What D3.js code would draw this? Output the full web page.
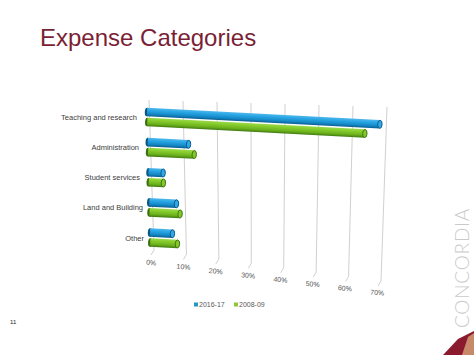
<html>
<head>
<title>Expense Categories</title>
<script type="text/javascript" src="https://d3js.org/d3.v7.min.js"></script>
<style>
  body { margin:0; background:#fff; }
  text { font-family: "Liberation Sans", Arial, sans-serif; }
</style>
</head>
<body>
<script type="text/javascript">
  var width = 474;
  var height = 355;

  var categories = ["Teaching and research", "Administration", "Student services", "Land and Building", "Other"];
  var series = ["2016-17", "2008-09"];
  var values2016 = [68.5, 12, 4.3, 8, 6.6];
  var values2008 = [64, 13.6, 4.3, 9, 8];
  var ticks = [0, 10, 20, 30, 40, 50, 60, 70];

  var svg = d3.select("body")
              .append("svg")
              .attr("width", width)
              .attr("height", height);

  var defs = svg.append("defs");
  function cylGrad(id, stops) {
    var g = defs.append("linearGradient").attr("id", id)
                .attr("x1", 0).attr("y1", 0).attr("x2", 0).attr("y2", 1);
    stops.forEach(function(s){
      g.append("stop").attr("offset", s[0]).attr("stop-color", s[1]);
    });
  }
  cylGrad("gBlue", [[0,"#4fb8ec"],[0.3,"#2aa6e4"],[0.7,"#1589c8"],[1,"#0a5c8e"]]);
  cylGrad("gGreen", [[0,"#9ad94a"],[0.3,"#86cc2c"],[0.7,"#6bb01c"],[1,"#3f7a10"]]);
  var fills = { "2016-17": "url(#gBlue)", "2008-09": "url(#gGreen)" };
  var caps = { "2016-17": "#2ea8e6", "2008-09": "#82c82a" };
  var edges = { "2016-17": "#0b5582", "2008-09": "#3c6e10" };
  var legendColors = { "2016-17": "#1e9cc0", "2008-09": "#8cc63e" };

  // title
  svg.append("text").attr("x", 40).attr("y", 46)
     .attr("font-size", 24).attr("fill", "#7a1f35")
     .text("Expense Categories");

  // perspective scales for the back wall gridlines
  var xTop = d3.scaleLinear().domain([0, 70]).range([149, 387]);
  var yTop = d3.scaleLinear().domain([0, 70]).range([100, 107]);
  var xBot = d3.scaleLinear().domain([0, 70]).range([154, 381]);
  var yBot = d3.scaleLinear().domain([0, 70]).range([250, 281]);
  var xLab = d3.scaleLinear().domain([0, 70]).range([151, 377]);
  var yLab = d3.scaleLinear().domain([0, 70]).range([265, 295]);

  var grid = svg.append("g");
  grid.selectAll("path").data(ticks).enter().append("path")
      .attr("d", function(d){
        return "M" + xTop(d) + "," + yTop(d) + "L" + xBot(d) + "," + yBot(d) +
               "L" + (xBot(d) - 3) + "," + (yBot(d) + 5);
      })
      .attr("fill", "none").attr("stroke", "#d0d0d0").attr("stroke-width", 1);

  grid.selectAll("text").data(ticks).enter().append("text")
      .attr("transform", function(d){ return "translate(" + xLab(d) + "," + yLab(d) + ") rotate(5)"; })
      .attr("text-anchor", "middle")
      .attr("font-size", 7).attr("fill", "#595959")
      .text(function(d){ return d + "%"; });

  // bars
  var yCat = d3.scalePoint().domain(categories).range([112, 232.5]);
  var seriesOffset = { "2016-17": 0, "2008-09": 10 };
  var barLen = d3.scaleLinear().domain([0, 70]).range([0, 238]);
  var tilt = 0.18; // px drop per percent
  var half = 4.3;

  var barData = [];
  categories.forEach(function(c, i){
    barData.push({cat: c, s: "2016-17", v: values2016[i]});
    barData.push({cat: c, s: "2008-09", v: values2008[i]});
  });

  var bars = svg.append("g").selectAll("g").data(barData).enter().append("g")
    .attr("transform", function(d){
      var y0 = yCat(d.cat) + seriesOffset[d.s];
      var x0 = 147 + (y0 - 112) * 0.025;
      var ang = Math.atan2(d.v * tilt, barLen(d.v)) * 180 / Math.PI;
      return "translate(" + x0 + "," + y0 + ") rotate(" + ang + ")";
    });

  bars.append("ellipse")
      .attr("cx", 0).attr("cy", 0).attr("rx", 2.2).attr("ry", half)
      .attr("fill", function(d){ return edges[d.s]; });
  bars.append("rect")
      .attr("x", 0).attr("y", -half)
      .attr("width", function(d){ return Math.hypot(barLen(d.v), d.v * tilt); })
      .attr("height", half * 2)
      .attr("fill", function(d){ return fills[d.s]; });
  bars.append("ellipse")
      .attr("cx", function(d){ return Math.hypot(barLen(d.v), d.v * tilt); })
      .attr("cy", 0).attr("rx", 2.2).attr("ry", half - 0.3)
      .attr("fill", function(d){ return caps[d.s]; })
      .attr("stroke", function(d){ return edges[d.s]; })
      .attr("stroke-width", 0.9);

  // category labels
  var labX = { "Teaching and research": 137, "Administration": 139, "Student services": 140,
               "Land and Building": 143, "Other": 144 };
  svg.append("g").selectAll("text").data(categories).enter().append("text")
     .attr("x", function(d){ return labX[d]; })
     .attr("y", function(d){ return yCat(d) + 8; })
     .attr("text-anchor", "end")
     .attr("font-size", 7.5).attr("fill", "#404040")
     .text(function(d){ return d; });

  // legend
  var legend = svg.append("g").selectAll("g").data(series).enter().append("g")
     .attr("transform", function(d, i){ return "translate(" + (194 + i * 40) + ",306)"; });
  legend.append("rect").attr("x", 0).attr("y", -3.5).attr("width", 4).attr("height", 4)
        .attr("fill", function(d){ return legendColors[d]; });
  legend.append("text").attr("x", 5).attr("y", 0.5)
        .attr("font-size", 7).attr("fill", "#595959")
        .text(function(d){ return d; });

  // page number
  svg.append("text").attr("x", 10).attr("y", 324)
     .attr("font-size", 6).attr("fill", "#222").text("11");

  // side brand text
  svg.append("text")
     .attr("transform", "translate(469,268) rotate(-90)")
     .attr("text-anchor", "middle")
     .attr("font-size", 19).attr("letter-spacing", 0.8)
     .attr("fill", "#cacaca")
     .style("font-family", "Lato, 'Liberation Sans', sans-serif")
     .style("font-weight", 300)
     .text("CONCORDIA");

  // corner ornament
  svg.append("path").attr("d", "M443,355L458,339L474,331L474,355Z").attr("fill", "#8b1a2e");
  svg.append("path").attr("d", "M462,355L468,337L474,333L474,355Z").attr("fill", "#c7896a");
</script>
</body>
</html>
